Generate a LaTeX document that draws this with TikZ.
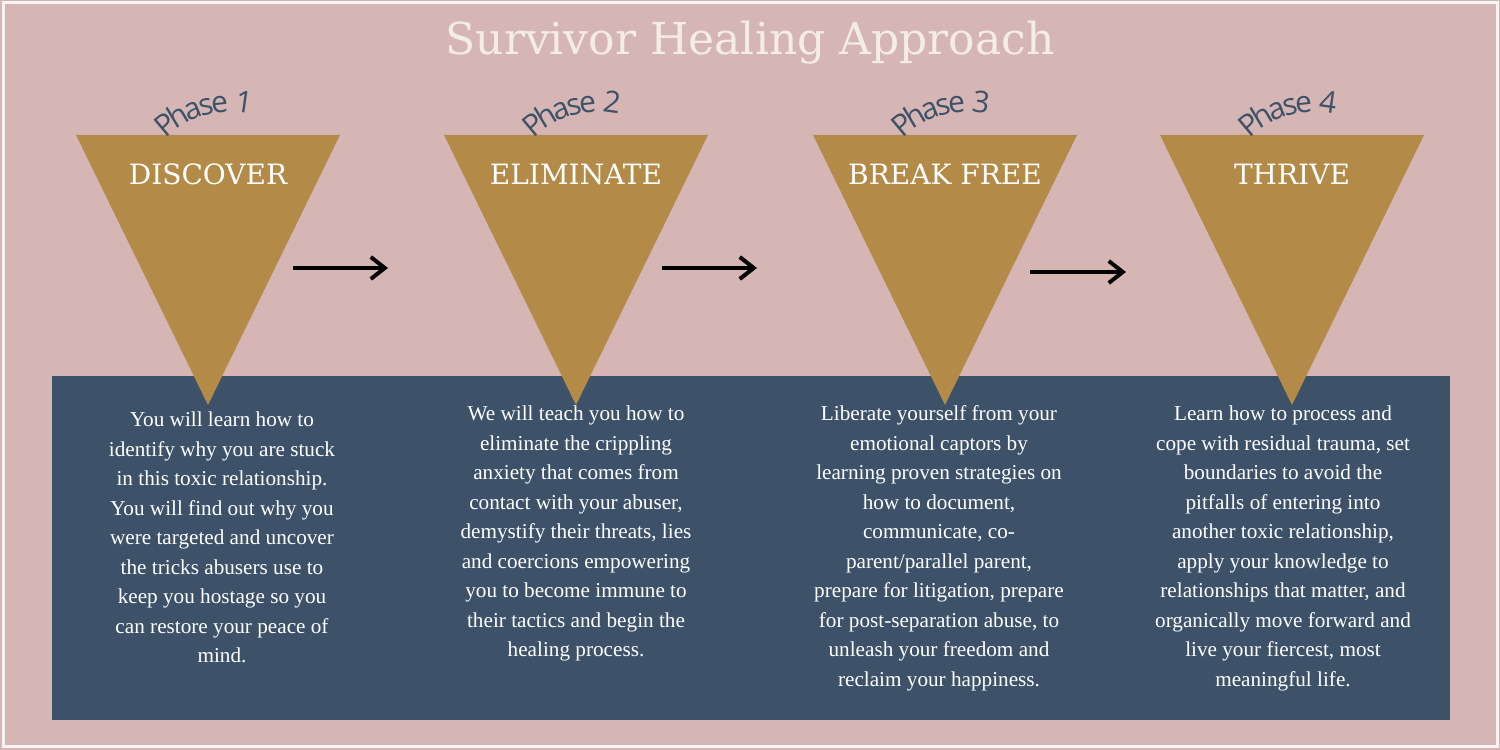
\documentclass[tikz,border=0pt]{standalone}
\usepackage{fontspec}
\setmainfont{Liberation Serif}
\newfontfamily\hdfont{DejaVu Serif}
\newfontfamily\phfont{Open Sans}
\usetikzlibrary{arrows.meta}
\definecolor{bg}{HTML}{D6B6B5}
\definecolor{panel}{HTML}{3D5169}
\definecolor{gold}{HTML}{B38A47}
\definecolor{ttl}{HTML}{F4ECE6}
\begin{document}
\begin{tikzpicture}[x=0.5pt,y=0.5pt,
  tri/.style={fill=gold},
  lab/.style={text=white,font=\hdfont\fontsize{14}{17}\selectfont},
  ph/.style={text=panel,inner sep=0pt,anchor=base,font=\phfont\fontsize{15}{17}\selectfont},
  body/.style={text=white,align=center,anchor=north,font=\fontsize{10.6}{14.75}\selectfont},
  arr/.style={line width=2pt,-{Straight Barb[length=7pt,width=11pt,line width=2pt]}}]
\fill[bg] (0,0) rectangle (1500,750);
\draw[white!85!bg,line width=1.5pt] (3,3) rectangle (1497,747);
\fill[panel] (52,30) rectangle (1450,374);
\node[text=ttl,font=\hdfont\fontsize{22}{28}\selectfont] (title) at (750,707) {Survivor Healing Approach};
\foreach \cx/\lb/\ph/\i in {208/DISCOVER/1/a,576/ELIMINATE/2/b,945/BREAK FREE/3/c,1292/THRIVE/4/d}{
  \fill[tri] (\cx-132,615) -- (\cx+132,615) -- (\cx,345) -- cycle;
  \node[lab] (t\i) at (\cx,576) {\lb};
  \foreach \ch/\ang [count=\k] in {P/130,h/121,a/112,s/104,e/96,{\ph}/82}{
    \node[ph,rotate=\ang-90] (p\i\k) at ([shift={(\ang:90)}]\cx+22,548) {\ch};
  }
}
\coordinate (a1) at (293,482); \coordinate (a2) at (388,482);
\coordinate (b1) at (662,482); \coordinate (b2) at (757,482);
\coordinate (c1) at (1030,478); \coordinate (c2) at (1126,478);
\draw[arr] (a1) -- (a2); \draw[arr] (b1) -- (b2); \draw[arr] (c1) -- (c2);
\node[body] (pa) at (222,345) {You will learn how to\\identify why you are stuck\\in this toxic relationship.\\You will find out why you\\were targeted and uncover\\the tricks abusers use to\\keep you hostage so you\\can restore your peace of\\mind.};
\node[body] (pb) at (576,351) {We will teach you how to\\eliminate the crippling\\anxiety that comes from\\contact with your abuser,\\demystify their threats, lies\\and coercions empowering\\you to become immune to\\their tactics and begin the\\healing process.};
\node[body] (pc) at (939,351) {Liberate yourself from your\\emotional captors by\\learning proven strategies on\\how to document,\\communicate, co-\\parent/parallel parent,\\prepare for litigation, prepare\\for post-separation abuse, to\\unleash your freedom and\\reclaim your happiness.};
\node[body] (pd) at (1283,351) {Learn how to process and\\cope with residual trauma, set\\boundaries to avoid the\\pitfalls of entering into\\another toxic relationship,\\apply your knowledge to\\relationships that matter, and\\organically move forward and\\live your fiercest, most\\meaningful life.};
\end{tikzpicture}
\end{document}
